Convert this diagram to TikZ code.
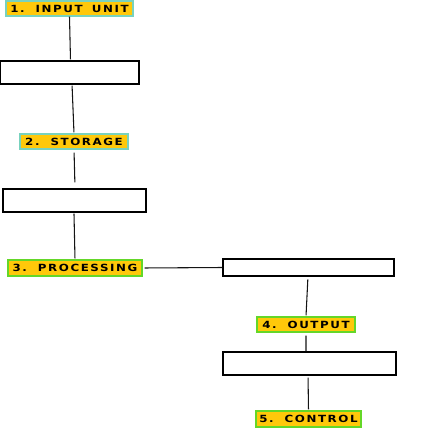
\documentclass[tikz,border=0pt]{standalone}
\usepackage{fontspec}
\newfontfamily\pixfont[FakeStretch=1.2,LetterSpace=16,WordSpace=1.6]{DejaVu Sans}
\definecolor{gold}{RGB}{255,200,10}
\definecolor{tealb}{RGB}{120,210,190}
\definecolor{greenb}{RGB}{100,215,40}
\definecolor{lineg}{RGB}{20,20,20}
\begin{document}
\begin{tikzpicture}[x=0.75pt,y=-0.75pt,
  lbl/.style={draw=#1,line width=0.9pt,fill=gold,inner sep=0pt,font=\pixfont\bfseries\fontsize{7.4}{8}\selectfont,text=black},
  lbl/.default=greenb,
  emptybox/.style={draw=black,line width=0.8pt,fill=white,inner sep=0pt},
  conn/.style={draw=lineg,line width=0.8pt}]
\useasboundingbox (0,0) rectangle (444,429);
\node[lbl=tealb,minimum width=127*0.75pt,minimum height=15*0.75pt] (l1) at (69.5,8.5) {1. INPUT UNIT};
\node[emptybox,minimum width=139*0.75pt,minimum height=23*0.75pt] (bA) at (69.5,72.5) {};
\node[lbl=tealb,minimum width=108*0.75pt,minimum height=15*0.75pt] (l2) at (74,141.5) {2. STORAGE};
\node[emptybox,minimum width=143*0.75pt,minimum height=23*0.75pt] (bB) at (74.5,200.5) {};
\node[lbl,minimum width=134*0.75pt,minimum height=16*0.75pt] (l3) at (75,268) {3. PROCESSING};
\node[emptybox,minimum width=171*0.75pt,minimum height=17*0.75pt] (bC) at (308.5,267.5) {};
\node[lbl,minimum width=98*0.75pt,minimum height=15*0.75pt] (l4) at (306,324.5) {4. OUTPUT};
\node[emptybox,minimum width=173*0.75pt,minimum height=23*0.75pt] (bD) at (309.5,363.5) {};
\node[lbl,minimum width=105*0.75pt,minimum height=16*0.75pt] (l5) at (308.5,419) {5. CONTROL};
\draw[conn,shorten >=0.75pt] (l1.south) -- ([xshift=0.75pt]bA.north);
\draw[conn,shorten <=0.75pt,shorten >=0.75pt] ([xshift=1.9pt]bA.south) -- (l2.north);
\draw[conn,shorten <=2.2pt,shorten >=4.5pt] (l2.south) -- ([xshift=0.4pt]bB.north);
\draw[conn,shorten <=0.75pt,shorten >=0.75pt] ([xshift=-0.4pt]bB.south) -- (l3.north);
\draw[conn,shorten <=1.5pt] (l3.east) -- (bC.west);
\draw[conn,shorten <=2.2pt,shorten >=0.75pt] ([xshift=-0.4pt]bC.south) -- (l4.north);
\draw[conn,shorten <=2.2pt] (l4.south) -- ([xshift=-2.6pt]bD.north);
\draw[conn,shorten <=1.5pt,shorten >=0.75pt] ([xshift=-1.1pt]bD.south) -- (l5.north);
\end{tikzpicture}
\end{document}
